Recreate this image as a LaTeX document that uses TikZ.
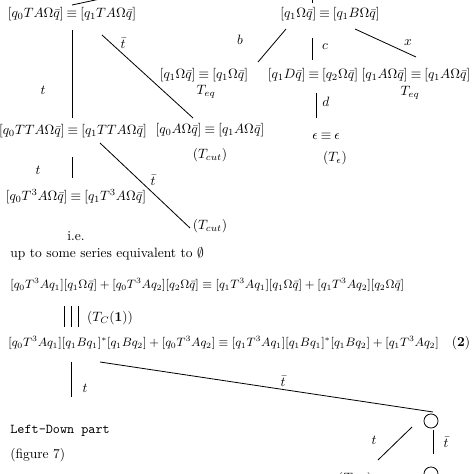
\documentclass[tikz,border=0pt]{standalone}
\usepackage{amsmath}
\begin{document}
\begin{tikzpicture}[x=0.74pt,y=-0.74pt, line width=0.6pt,
  eq/.style={inner sep=0pt, execute at begin node={\thickmuskip=4mu}},
  longeq/.style={inner sep=0pt, anchor=west, font=\fontsize{9}{11}\selectfont},
  lbl/.style={inner sep=0pt},
  leaf/.style={draw, circle, inner sep=0pt, minimum size=10.4pt}]
\useasboundingbox (0,0) rectangle (474,474);
\clip (0,0) rectangle (474,474);
% top-level nodes
\node[eq] (a) at (72,14) {$[q_0TA\Omega\bar q]\equiv[q_1TA\Omega\bar q]$};
\node[eq] (b) at (330,14) {$[q_1\Omega\bar q]\equiv[q_1B\Omega\bar q]$};
% right subtree
\node[eq] (b1) at (204,75) {$[q_1\Omega\bar q]\equiv[q_1\Omega\bar q]$};
\node[eq] (b1t) at (206,92) {$T_{eq}$};
\node[eq] (b2) at (313,75) {$[q_1D\bar q]\equiv[q_2\Omega\bar q]$};
\node[eq] (b3) at (416,75) {$[q_1A\Omega\bar q]\equiv[q_1A\Omega\bar q]$};
\node[eq] (b3t) at (410,93) {$T_{eq}$};
\node[eq] (eps) at (326,136) {$\epsilon\equiv\epsilon$};
\node[eq] (epst) at (335,158) {$(T_\epsilon)$};
% left subtree
\node[eq] (a1) at (73,131) {$[q_0TTA\Omega\bar q]\equiv[q_1TTA\Omega\bar q]$};
\node[eq] (a2) at (210,130) {$[q_0A\Omega\bar q]\equiv[q_1A\Omega\bar q]$};
\node[eq] (a2t) at (210,155) {$(T_{cut})$};
\node[eq] (a3) at (76,197) {$[q_0T^3A\Omega\bar q]\equiv[q_1T^3A\Omega\bar q]$};
\node[eq] (a4t) at (210,226) {$(T_{cut})$};
\node[eq] (ie) at (76,236) {i.e.};
% text lines
\node[eq, anchor=west] (upto) at (10,254) {up to some series equivalent to $\emptyset$};
\node[longeq] (eq1) at (10,285) {$[q_0T^3Aq_1][q_1\Omega\bar q]+[q_0T^3Aq_2][q_2\Omega\bar q]\equiv[q_1T^3Aq_1][q_1\Omega\bar q]+[q_1T^3Aq_2][q_2\Omega\bar q]$};
\node[eq] (tc1) at (110,318) {$(T_C(\mathbf{1}))$};
\node[longeq] (eq2) at (8,343) {$[q_0T^3Aq_1][q_1Bq_1]^*[q_1Bq_2]+[q_0T^3Aq_2]\equiv[q_1T^3Aq_1][q_1Bq_1]^*[q_1Bq_2]+[q_1T^3Aq_2]$};
\node[eq] (eqn) at (461,343) {$\mathbf{(2)}$};
\node[eq, anchor=west] (ld) at (10,431) {\texttt{Left-Down part}};
\node[eq, anchor=west] (fig) at (10,455) {(figure 7)};
\node[leaf] (c1) at (431,421) {};
\node[leaf] (c2) at (431,474) {};
\node[eq] (a5t) at (355,479) {$(T_{cut})$};
% connector end points
\coordinate (topA) at (100,-1);
\coordinate (topB) at (312,-1);
% connectors
\draw (72,5) -- (topA);
\draw (312,3) -- (topB);
\draw (72,30) -- (72,118);
\node[lbl] at (43,90) {$t$};
\draw (102,35) -- (193,118);
\node[lbl] at (123,43) {$\bar t$};
\draw (286,29) -- (258,62);
\node[lbl] at (240,40) {$b$};
\draw (312,38) -- (312,60);
\node[lbl] at (325,47) {$c$};
\draw (355,29) -- (416,57);
\node[lbl] at (408,43) {$x$};
\draw (316,93) -- (316,118);
\node[lbl] at (326,102) {$d$};
\draw (72,157) -- (72,178);
\node[lbl] at (38,170) {$t$};
\draw (100,143) -- (190,228);
\node[lbl] at (153,180) {$\bar t$};
\draw (64,306) -- (64,327);
\draw (71,306) -- (71,327);
\draw (78,306) -- (78,327);
\draw (71,362) -- (71,397);
\node[lbl] at (85,388) {$t$};
\draw (100,362) -- (433,412);
\node[lbl] at (283,381) {$\bar t$};
\draw (433,430) -- (433,454);
\node[lbl] at (446,442) {$\bar t$};
\draw (412,427) -- (378,460);
\node[lbl] at (374,440) {$t$};
\end{tikzpicture}
\end{document}
